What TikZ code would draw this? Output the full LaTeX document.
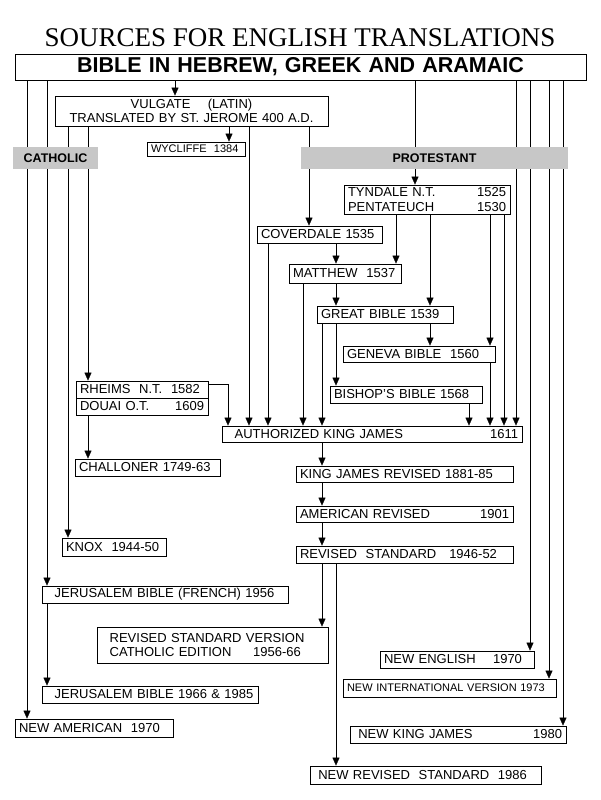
\documentclass[tikz,border=0pt]{standalone}
\usepackage{fontspec}
\setmainfont{Liberation Sans}
\newfontfamily\ttlfont{Liberation Serif}
\usetikzlibrary{arrows.meta}
\newcommand\bx[7][]{%
  \pgfmathsetmacro\bw{#5-#3}\pgfmathsetmacro\bh{#6-#4}%
  \node[box,#1,minimum width=\bw pt,minimum height=\bh pt,text width=\bw pt-8pt] (#2) at ({(#3+#5)/2},{(#4+#6)/2}) {#7};}
\begin{document}
\begin{tikzpicture}[x=1pt,y=-1pt,
  box/.style={draw,thick,inner sep=0pt,inner xsep=4pt,align=left,font=\fontsize{13}{14.5}\selectfont},
  arr/.style={-{Triangle[length=8pt,width=7pt]},thin},
  band/.style={fill=black!22,inner sep=0pt,font=\bfseries\fontsize{12.5}{14}\selectfont}]
\useasboundingbox (0,0) rectangle (600,800);
\node[font=\ttlfont\fontsize{27}{30}\selectfont] (title) at (300,38) {SOURCES FOR ENGLISH TRANSLATIONS};
\bx[align=center,font=\bfseries\fontsize{21.5}{23}\selectfont]{bible}{15}{54}{586}{80}{BIBLE IN HEBREW, GREEK AND ARAMAIC}
\bx[align=center]{vulg}{55}{96}{328}{126}{VULGATE\quad\ (LATIN)\\TRANSLATED BY ST. JEROME 400 A.D.}
\bx[font=\fontsize{11}{12}\selectfont]{wyc}{147}{142}{245}{156}{WYCLIFFE\ \ 1384}
\bx{tyn}{344}{185}{510}{214}{TYNDALE N.T.\hfill 1525\\PENTATEUCH\hfill 1530}
\bx{cov}{257}{226}{382}{243}{COVERDALE 1535}
\bx{mat}{289}{264}{401}{283}{MATTHEW\ \ 1537}
\bx{great}{317}{306}{453}{323}{GREAT BIBLE 1539}
\bx{gen}{343}{346}{495}{362}{GENEVA BIBLE\ \ 1560}
\bx{bish}{330}{386}{482}{403}{BISHOP'S BIBLE 1568}
\bx{rhe}{76}{381}{208}{398}{RHEIMS\ \ N.T.\ \ 1582}
\bx{dou}{76}{398}{208}{415}{DOUAI O.T.\hfill 1609}
\bx{akj}{222}{426}{522}{442}{\ \ AUTHORIZED KING JAMES\hfill 1611\ \ }
\bx{chal}{75}{459}{220}{476}{CHALLONER 1749-63}
\bx{kjr}{296}{466}{513}{482}{KING JAMES REVISED 1881-85}
\bx{amr}{296}{506}{513}{522}{AMERICAN REVISED\hfill 1901\ }
\bx{knox}{62}{538}{166}{556}{KNOX\ \ 1944-50}
\bx{rsd}{296}{546}{513}{563}{REVISED\ \ STANDARD\ \ \ 1946-52}
\bx{jerf}{42}{586}{288}{603}{\ \ JERUSALEM BIBLE (FRENCH) 1956}
\bx{rsvce}{97}{627}{328}{663}{\ \ REVISED STANDARD VERSION\\\ \ CATHOLIC EDITION\quad\ \ 1956-66}
\bx{jer66}{42}{686}{258}{703}{\ \ JERUSALEM BIBLE 1966 \& 1985}
\bx{nam}{15}{719}{173}{737}{NEW AMERICAN\ \ 1970}
\bx{ne}{380}{651}{534}{668}{NEW ENGLISH\quad\ 1970}
\bx[font=\fontsize{11}{12}\selectfont]{niv}{343}{679}{556}{697}{NEW INTERNATIONAL VERSION 1973}
\bx{nkj}{350}{726}{566}{743}{\ NEW KING JAMES\hfill 1980}
\bx{nrs}{310}{766}{541}{784}{\ NEW REVISED\ \ STANDARD\ \ 1986}
\foreach \x in {27,47,68,88,175,228,229,249,268,303,309,322,336,396,415,430,469,490,504,516,530,549,563}
  \coordinate (c\x) at (\x,0);
% from Bible
\draw[arr] (bible.south -| c27) -- (nam.north -| c27);
\draw[arr] (bible.south -| c47) -- (jerf.north -| c47);
\draw[arr] (bible.south -| c175) -- (vulg.north -| c175);
\draw[arr] (bible.south -| c415) -- (tyn.north -| c415);
\draw[arr] (bible.south -| c516) -- (akj.north -| c516);
\draw[arr] (bible.south -| c530) -- (ne.north -| c530);
\draw[arr] (bible.south -| c549) -- (niv.north -| c549);
\draw[arr] (bible.south -| c563) -- (nkj.north -| c563);
% from Vulgate
\draw[arr] (vulg.south -| c68) -- (knox.north -| c68);
\draw[arr] (vulg.south -| c88) -- (rhe.north -| c88);
\draw[arr] (vulg.south -| c229) -- (wyc.north -| c229);
\draw[arr] (vulg.south -| c249) -- (akj.north -| c249);
\draw[arr] (vulg.south -| c309) -- (cov.north -| c309);
% Tyndale
\draw[arr] (tyn.south -| c396) -- (mat.north -| c396);
\draw[arr] (tyn.south -| c430) -- (great.north -| c430);
\draw[arr] (tyn.south -| c490) -- (gen.north -| c490);
\draw[arr] (tyn.south -| c504) -- (akj.north -| c504);
% Coverdale, Matthew
\draw[arr] (cov.south -| c268) -- (akj.north -| c268);
\draw[arr] (cov.south -| c336) -- (mat.north -| c336);
\draw[arr] (mat.south -| c303) -- (akj.north -| c303);
\draw[arr] (mat.south -| c336) -- (great.north -| c336);
% Great, Geneva, Bishop
\draw[arr] (great.south -| c322) -- (akj.north -| c322);
\draw[arr] (great.south -| c336) -- (bish.north -| c336);
\draw[arr] (great.south -| c430) -- (gen.north -| c430);
\draw[arr] (gen.south -| c490) -- (akj.north -| c490);
\draw[arr] (bish.south -| c469) -- (akj.north -| c469);
% Catholic
\draw[arr] ([yshift=5pt]rhe.east) -| (akj.north -| c228);
\draw[arr] (dou.south -| c88) -- (chal.north -| c88);
\draw[arr] (jerf.south -| c47) -- (jer66.north -| c47);
% KJ line
\draw[arr] (akj.south -| c322) -- (kjr.north -| c322);
\draw[arr] (kjr.south -| c322) -- (amr.north -| c322);
\draw[arr] (amr.south -| c322) -- (rsd.north -| c322);
\draw[arr] (rsd.south -| c322) -- (rsvce.north -| c322);
\draw[arr] (rsd.south -| c336) -- (nrs.north -| c336);
% bands on top
\node[band,minimum width=85pt,minimum height=22pt] (cath) at (55.5,158) {CATHOLIC};
\node[band,minimum width=267pt,minimum height=22pt] (prot) at (434.5,158) {PROTESTANT};
\end{tikzpicture}
\end{document}
